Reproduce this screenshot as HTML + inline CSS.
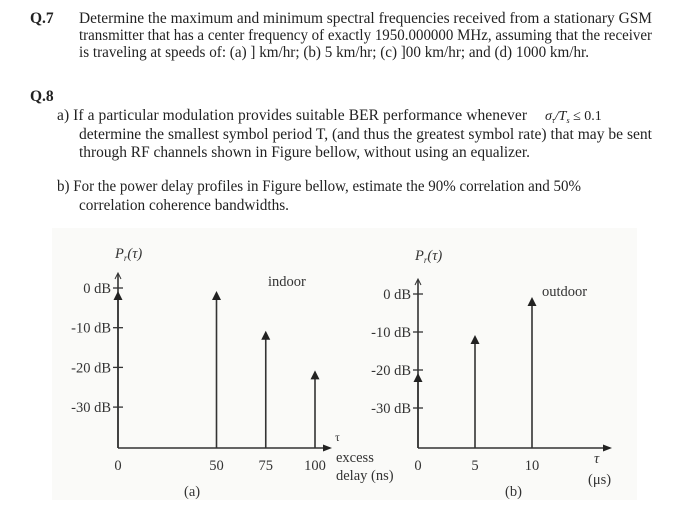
<!DOCTYPE html>
<html><head><meta charset="utf-8"><style>
html,body{margin:0;padding:0;background:#fff;}
svg{display:block;font-family:"Liberation Serif",serif;}
</style></head><body>
<svg width="700" height="507" viewBox="0 0 700 507" xmlns="http://www.w3.org/2000/svg">
<g font-size="15.5" fill="#222">
<text x="30" y="23" font-weight="bold">Q.7</text>
<text x="79" y="23" textLength="573" lengthAdjust="spacingAndGlyphs">Determine the maximum and minimum spectral frequencies received from a stationary GSM</text>
<text x="79" y="40" textLength="573" lengthAdjust="spacingAndGlyphs">transmitter that has a center frequency of exactly 1950.000000 MHz, assuming that the receiver</text>
<text x="79" y="57" textLength="510" lengthAdjust="spacingAndGlyphs">is traveling at speeds of: (a) ] km/hr; (b) 5 km/hr; (c) ]00 km/hr; and (d) 1000 km/hr.</text>
<text x="30" y="101" font-weight="bold">Q.8</text>
<text x="57" y="120" textLength="470" lengthAdjust="spacing">a)  If  a  particular  modulation  provides  suitable  BER  performance  whenever</text>
<text x="545" y="120" font-style="italic" font-size="14">σ<tspan font-size="8" dy="3">τ</tspan><tspan dy="-3">/T</tspan><tspan font-size="8" dy="3">s</tspan><tspan dy="-3" font-style="normal"> ≤ 0.1</tspan></text>
<text x="79" y="139" textLength="573" lengthAdjust="spacingAndGlyphs">determine the smallest symbol period T, (and thus the greatest symbol rate) that may be sent</text>
<text x="79" y="157" textLength="451" lengthAdjust="spacingAndGlyphs">through RF channels shown in Figure bellow, without using an equalizer.</text>
<text x="57" y="191" textLength="524" lengthAdjust="spacingAndGlyphs">b) For the power delay profiles in Figure bellow, estimate the 90% correlation and 50%</text>
<text x="79" y="210" textLength="210" lengthAdjust="spacingAndGlyphs">correlation coherence bandwidths.</text>
</g>
<rect x="52" y="228" width="585" height="272" fill="#fafaf8"/>
<g id="charts" font-size="14.5" fill="#333"></g>
</svg>
<script>
// Chart (a) indoor
const aDelays = [0, 50, 75, 100];
const aPowers = [0, 0, -10, -20];
const aTicks = ["0", "50", "75", "100"];
// Chart (b) outdoor
const bDelays = [0, 5, 10];
const bPowers = [-20, -10, 0];
const bTicks = ["0", "5", "10"];
const dbTicks = [0, -10, -20, -30];
const dbLabels = ["0 dB", "-10 dB", "-20 dB", "-30 dB"];

const NS = "http://www.w3.org/2000/svg";
const root = document.getElementById('charts');
function mk(tag, attrs, parent) {
  const e = document.createElementNS(NS, tag);
  for (const k in attrs) e.setAttribute(k, attrs[k]);
  (parent || root).appendChild(e);
  return e;
}
function chart(cfg) {
  const g = mk('g', {});
  
  
  const x = v => cfg.x0 + v * cfg.xs;
  const y = d => cfg.y0 + (-d) * cfg.ys;
  const st = {stroke: '#333', 'stroke-width': 1.6, fill: 'none'};
  const ya = mk('line', Object.assign({x1: cfg.x0, y1: cfg.base, x2: cfg.x0, y2: cfg.y0 - 14}, st), g);
  
  
  mk('path', {d: `M${cfg.x0-3},${cfg.y0-9} L${cfg.x0},${cfg.y0-15} L${cfg.x0+3},${cfg.y0-9}`, stroke: '#333', fill: 'none', 'stroke-width': 1}, g);
  const xa = mk('line', Object.assign({x1: cfg.x0, y1: cfg.base, x2: cfg.xEnd - 6, y2: cfg.base}, st), g);
  
  
  mk('path', {d: `M${cfg.xEnd},${cfg.base} L${cfg.xEnd-9},${cfg.base-3.5} L${cfg.xEnd-9},${cfg.base+3.5}Z`, fill: '#222'}, g);
  dbTicks.forEach((d, i) => {
    const t = mk('line', {x1: cfg.x0 - 5, x2: cfg.x0 + 5, y1: y(d), y2: y(d), stroke: '#333', 'stroke-width': 1.3}, g);
    
    
    const l = mk('text', {x: cfg.x0 - 7, y: y(d) + 5, 'text-anchor': 'end'}, g);
    l.textContent = dbLabels[i];
    
    
  });
  cfg.delays.forEach((v, i) => {
    const px = x(v), tip = y(cfg.powers[i]) + 3;
    const s = mk('line', {x1: px, x2: px, y1: cfg.base, y2: tip + 6, stroke: '#333', 'stroke-width': 1.6}, g);
    
    
    const a = mk('path', {d: `M${px},${tip} L${px-4.5},${tip+9} L${px+4.5},${tip+9}Z`, fill: '#222'}, g);
    
    
    const l = mk('text', {x: px, y: cfg.base + 22, 'text-anchor': 'middle'}, g);
    l.textContent = cfg.ticks[i];
    
    
  });
  return g;
}
const ga = chart({name: 'indoor-chart', x0: 118, xs: 1.97, y0: 288, ys: 3.97, base: 448, xEnd: 332, delays: aDelays, powers: aPowers, ticks: aTicks});
const gb = chart({name: 'outdoor-chart', x0: 418, xs: 11.4, y0: 294, ys: 3.8, base: 448, xEnd: 612, delays: bDelays, powers: bPowers, ticks: bTicks});
function txt(g, x, y, s, name, extra) {
  const t = mk('text', Object.assign({x: x, y: y}, extra || {}), g);
  t.innerHTML = s;
  
  
}
txt(ga, 115, 258, 'P<tspan font-size="9" dy="3">r</tspan><tspan dy="-3">(τ)</tspan>', 'y-axis-title', {'font-style': 'italic'});
txt(ga, 268, 286, 'indoor', 'chart-title');
txt(ga, 184, 496, '(a)', 'panel-label');
txt(gb, 415, 260, 'P<tspan font-size="9" dy="3">r</tspan><tspan dy="-3">(τ)</tspan>', 'y-axis-title', {'font-style': 'italic'});
txt(gb, 542, 296, 'outdoor', 'chart-title');
txt(gb, 505, 496, '(b)', 'panel-label');
txt(root, 335, 441, 'τ', 'x-axis-symbol', {'font-size': 12});
txt(root, 336, 462, 'excess', 'x-axis-title-line1');
txt(root, 336, 480, 'delay (ns)', 'x-axis-title-line2');
txt(root, 594, 463, 'τ', 'x-axis-symbol-b', {'font-style': 'italic'});
txt(root, 588, 484, '(μs)', 'x-axis-unit-b');
</script>
</body></html>
